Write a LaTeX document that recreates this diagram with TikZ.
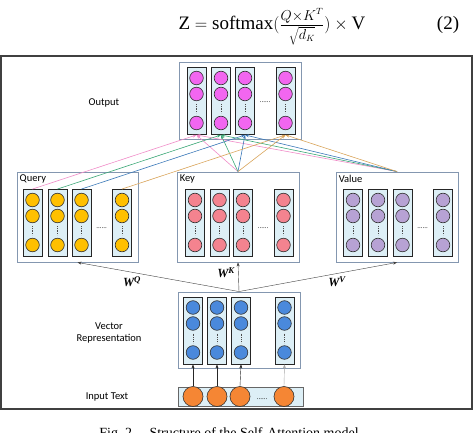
\documentclass[tikz,border=0pt]{standalone}
\usepackage{fontspec}
\setmainfont{Liberation Serif}
\newfontfamily\calibri{Carlito}
\usetikzlibrary{arrows.meta}

\definecolor{boxline}{HTML}{8497B0}
\definecolor{colfill}{HTML}{DDEFF6}
\definecolor{outc}{HTML}{F266F0}
\definecolor{qc}{HTML}{FFC000}
\definecolor{kc}{HTML}{F4838F}
\definecolor{vc}{HTML}{B7A2D4}
\definecolor{vecc}{HTML}{4A89DC}
\definecolor{inc}{HTML}{F58634}
\definecolor{lpink}{HTML}{F08CC8}
\definecolor{lgreen}{HTML}{3AA776}
\definecolor{lblue}{HTML}{3A78B8}
\definecolor{lorange}{HTML}{D9A45A}

\tikzset{
  group/.style={draw=boxline, fill=white, line width=0.9pt, inner sep=0pt},
  col/.style={draw=black!85, fill=colfill, line width=0.9pt, minimum width=19pt, minimum height=67pt, inner sep=0pt},
  ball/.style={draw=black!80, line width=0.6pt},
  lbl/.style={font=\calibri\fontsize{10.5}{12.5}\selectfont},
  wlbl/.style={font=\bfseries\itshape\fontsize{12.5}{14}\selectfont},
  dots/.style={font=\fontsize{7}{8}\selectfont, inner sep=0pt, anchor=base},
  >={Stealth[length=4pt,width=3pt]}
}

\begin{document}
\begin{tikzpicture}[x=1pt, y=-1pt]
  \useasboundingbox (0,0) rectangle (474,433);

  % equation and caption
  \node [anchor=base] (eq) at (272,30) {\fontsize{19}{22}\selectfont
    $\mathrm{Z}=\mathrm{softmax}(\frac{Q\times K^{T}\rule[-5pt]{0pt}{0pt}}{\sqrt{d_{K}\rule[-5pt]{0pt}{17pt}}})\times\mathrm{V}$};
  \node [anchor=base] (eqno) at (448,30) {\fontsize{19}{22}\selectfont (2)};
  \node [anchor=base] (cap) at (229,437) {\fontsize{14}{16}\selectfont Fig.\ 2\quad\ Structure of the Self-Attention model};

  % frame
  \draw [line width=1.6pt, black!75] (1,56) rectangle (472,409);

  % group boxes
  \node [group, minimum width=122pt, minimum height=77pt] (outbox) at (240,100.5) {};
  \node [group, minimum width=121pt, minimum height=90pt] (qbox) at (77.5,217) {};
  \node [group, minimum width=122pt, minimum height=90pt] (kbox) at (238,217) {};
  \node [group, minimum width=122pt, minimum height=90pt] (vbox) at (397,217) {};
  \node [group, minimum width=122pt, minimum height=76pt] (vecbox) at (239,330) {};
  \node [group, fill=colfill, draw=black!60, minimum width=125pt, minimum height=19pt] (inbox) at (240.5,396.5) {};

  % columns of units
  \foreach \g/\cy/\c/\xa/\xb/\xc/\xd in {out/101/outc/196.5/221/245/285.5, q/223/qc/32.5/57.5/81.5/122,
      k/223/kc/195/219.5/243/283.5, v/223/vc/353/378/402.5/443, vec/330.5/vecc/193/217/241/284.5} {
    \foreach \x [count=\i] in {\xa,\xb,\xc,\xd} {
      \node [col] (\g\i) at (\x,\cy) {};
      \filldraw [ball, fill=\c] (\x,\cy-23) circle [radius=6.8pt];
      \filldraw [ball, fill=\c] (\x,\cy-7) circle [radius=6.8pt];
      \filldraw [ball, fill=\c] (\x,\cy+22) circle [radius=6.8pt];
      \draw [densely dotted, line width=0.8pt, black!70] (\x,\cy+3) -- (\x,\cy+12);
    }
  }
  \node [dots] (outdots) at (265,103) {......};
  \node [dots] (qdots) at (101.5,228) {......};
  \node [dots] (kdots) at (263,228) {......};
  \node [dots] (vdots) at (422.5,228) {......};

  % input tokens
  \foreach \x [count=\i] in {193,217,240,284}
    \node [circle, ball, fill=inc, minimum size=20pt, inner sep=0pt] (in\i) at (\x,396.5) {};
  \node [dots] (indots) at (262,399) {......};
  \foreach \i in {1,2,3}
    \draw [->, black!85] (in\i.north) -- (vec\i.south);
  \draw [->, black!35] (in4.north) -- (vec4.south);

  % projections
  \draw [->, black!75] (vecbox.north) -- (qbox.south);
  \draw [->, black!75] (vecbox.north) -- (kbox.south);
  \draw [->, black!75] (vecbox.north) -- (vbox.south);
  \node [wlbl] (wq) at (132,282) {W\textsuperscript{Q}};
  \node [wlbl] (wk) at (226,273) {W\textsuperscript{K}};
  \node [wlbl] (wv) at (337,282) {W\textsuperscript{V}};

  % attention links
  \foreach \c [count=\i] in {lpink,lgreen,lblue,lorange} {
    \draw [->, \c, line width=0.6pt] (q\i.north) -- (out\i.south);
    \draw [->, \c, line width=0.6pt] (kbox.north) -- (out\i.south);
    \draw [->, \c, line width=0.6pt] (vbox.north) -- (out\i.south);
  }

  % labels
  \node [lbl] (outlbl) at (104,103) {Output};
  \node [lbl, align=center] (veclbl) at (109,333) {Vector\\Representation};
  \node [lbl] (inlbl) at (107,397) {Input Text};
  \node [lbl, anchor=north west, inner sep=1pt] (qlbl) at ([xshift=2pt, yshift=-2pt]qbox.north west) {Query};
  \node [lbl, anchor=north west, inner sep=1pt] (klbl) at ([xshift=2pt, yshift=-2pt]kbox.north west) {Key};
  \node [lbl, anchor=north west, inner sep=1pt] (vlbl) at ([xshift=2pt, yshift=-2pt]vbox.north west) {Value};
\end{tikzpicture}
\end{document}
